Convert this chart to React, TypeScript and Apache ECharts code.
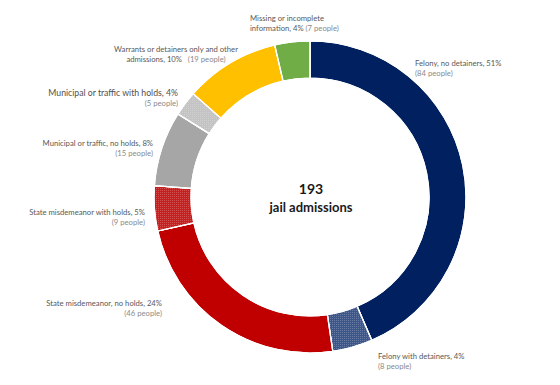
import React, { useEffect, useRef } from "react";
import * as echarts from "echarts";

const categories = [
  "Felony, no detainers",
  "Felony with detainers",
  "State misdemeanor, no holds",
  "State misdemeanor with holds",
  "Municipal or traffic, no holds",
  "Municipal or traffic with holds",
  "Warrants or detainers only and other admissions",
  "Missing or incomplete information",
];
const people = [84, 8, 46, 9, 15, 5, 19, 7];
const percentLabels = ["51%", "4%", "24%", "5%", "8%", "4%", "10%", "4%"];
const totalLabel = "193";
const centerCaption = "jail admissions";

const colors = ["#002060", "#3d5689", "#c00000", "#c42020", "#a6a6a6", "#c3c3c3", "#ffc000", "#70ad47"];
const hatched = [false, true, false, true, false, true, false, false];

// label anchor positions (x, y of first line) and alignment
const labelPos: [number, number, string][] = [
  [415, 58, "left"],
  [378, 351, "left"],
  [162, 298, "right"],
  [145, 207, "right"],
  [153, 138, "right"],
  [178, 87, "right"],
  [176, 44, "center"],
  [250, 13, "left"],
];

function labelText(i: number): string {
  const pct = percentLabels[i];
  const ppl = `(${people[i]} people)`;
  if (i === 6) return `{a|Warrants or detainers only and other}\n{a|admissions, ${pct}}{b|   ${ppl}}`;
  if (i === 7) return `{a|Missing or incomplete}\n{a|information, ${pct} }{b|${ppl}}`;
  const style = i === 5 ? "c" : "a";
  return `{${style}|${categories[i]}, ${pct}}\n{b|${ppl}}`;
}

export default function App() {
  const ref = useRef<HTMLDivElement>(null);
  useEffect(() => {
    if (!ref.current) return;
    const chart = echarts.init(ref.current, null, { renderer: "svg" });
    const data = categories.map((name, i) => ({
      name,
      value: people[i],
      itemStyle: {
        color: colors[i],
        decal: hatched[i]
          ? {
              symbol: "rect",
              symbolSize: 1,
              color: "rgba(255,255,255,0.22)",
              dashArrayX: [1, 1],
              dashArrayY: [1, 1],
              rotation: 0,
            }
          : { symbol: "none" },
      },
    }));
    chart.setOption({
      animation: false,
      aria: { enabled: false, decal: { show: true } },
      series: [
        {
          type: "pie",
          center: [310, 197],
          radius: [119, 156],
          startAngle: 90,
          clockwise: true,
          data,
          itemStyle: { borderColor: "#ffffff", borderWidth: 1.2 },
          label: {
            show: true,
            position: "outside",
            fontFamily: "Lato",
            color: "#595959",
            textBorderWidth: 0,
            lineHeight: 10,
            overflow: "none",
            edgeDistance: 0,
            formatter: (p: any) => labelText(p.dataIndex),
            rich: {
              a: { fontFamily: "Lato", fontSize: 7.7, color: "#595959", lineHeight: 10 },
              b: { fontFamily: "Lato", fontSize: 7.7, color: "#8a8a8a", lineHeight: 10 },
              c: { fontFamily: "Lato", fontSize: 8.7, fontWeight: "normal", color: "#505050", lineHeight: 11 },
            },
          },
          labelLine: { show: false },
          labelLayout: (params: any) => {
            const p = labelPos[params.dataIndex];
            return { x: p[0], y: p[1], align: p[2], verticalAlign: "top", hideOverlap: false };
          },
          emphasis: { disabled: true },
        },
      ],
      graphic: [
        {
          type: "text",
          x: 311,
          y: 181,
          style: {
            text: totalLabel,
            align: "center",
            fontFamily: "Lato",
            fontWeight: "bold",
            fontSize: 14,
            fill: "#1a1a1a",
          },
        },
        {
          type: "text",
          x: 311,
          y: 200,
          style: {
            text: centerCaption,
            align: "center",
            fontFamily: "Lato",
            fontWeight: "bold",
            fontSize: 13,
            fill: "#1a1a1a",
          },
        },
      ],
    });
    return () => chart.dispose();
  }, []);
  return (
    <div
      ref={ref}
      style={{ position: "fixed", left: 0, top: 0, width: 560, height: 385, background: "#fff" }}
    />
  );
}
